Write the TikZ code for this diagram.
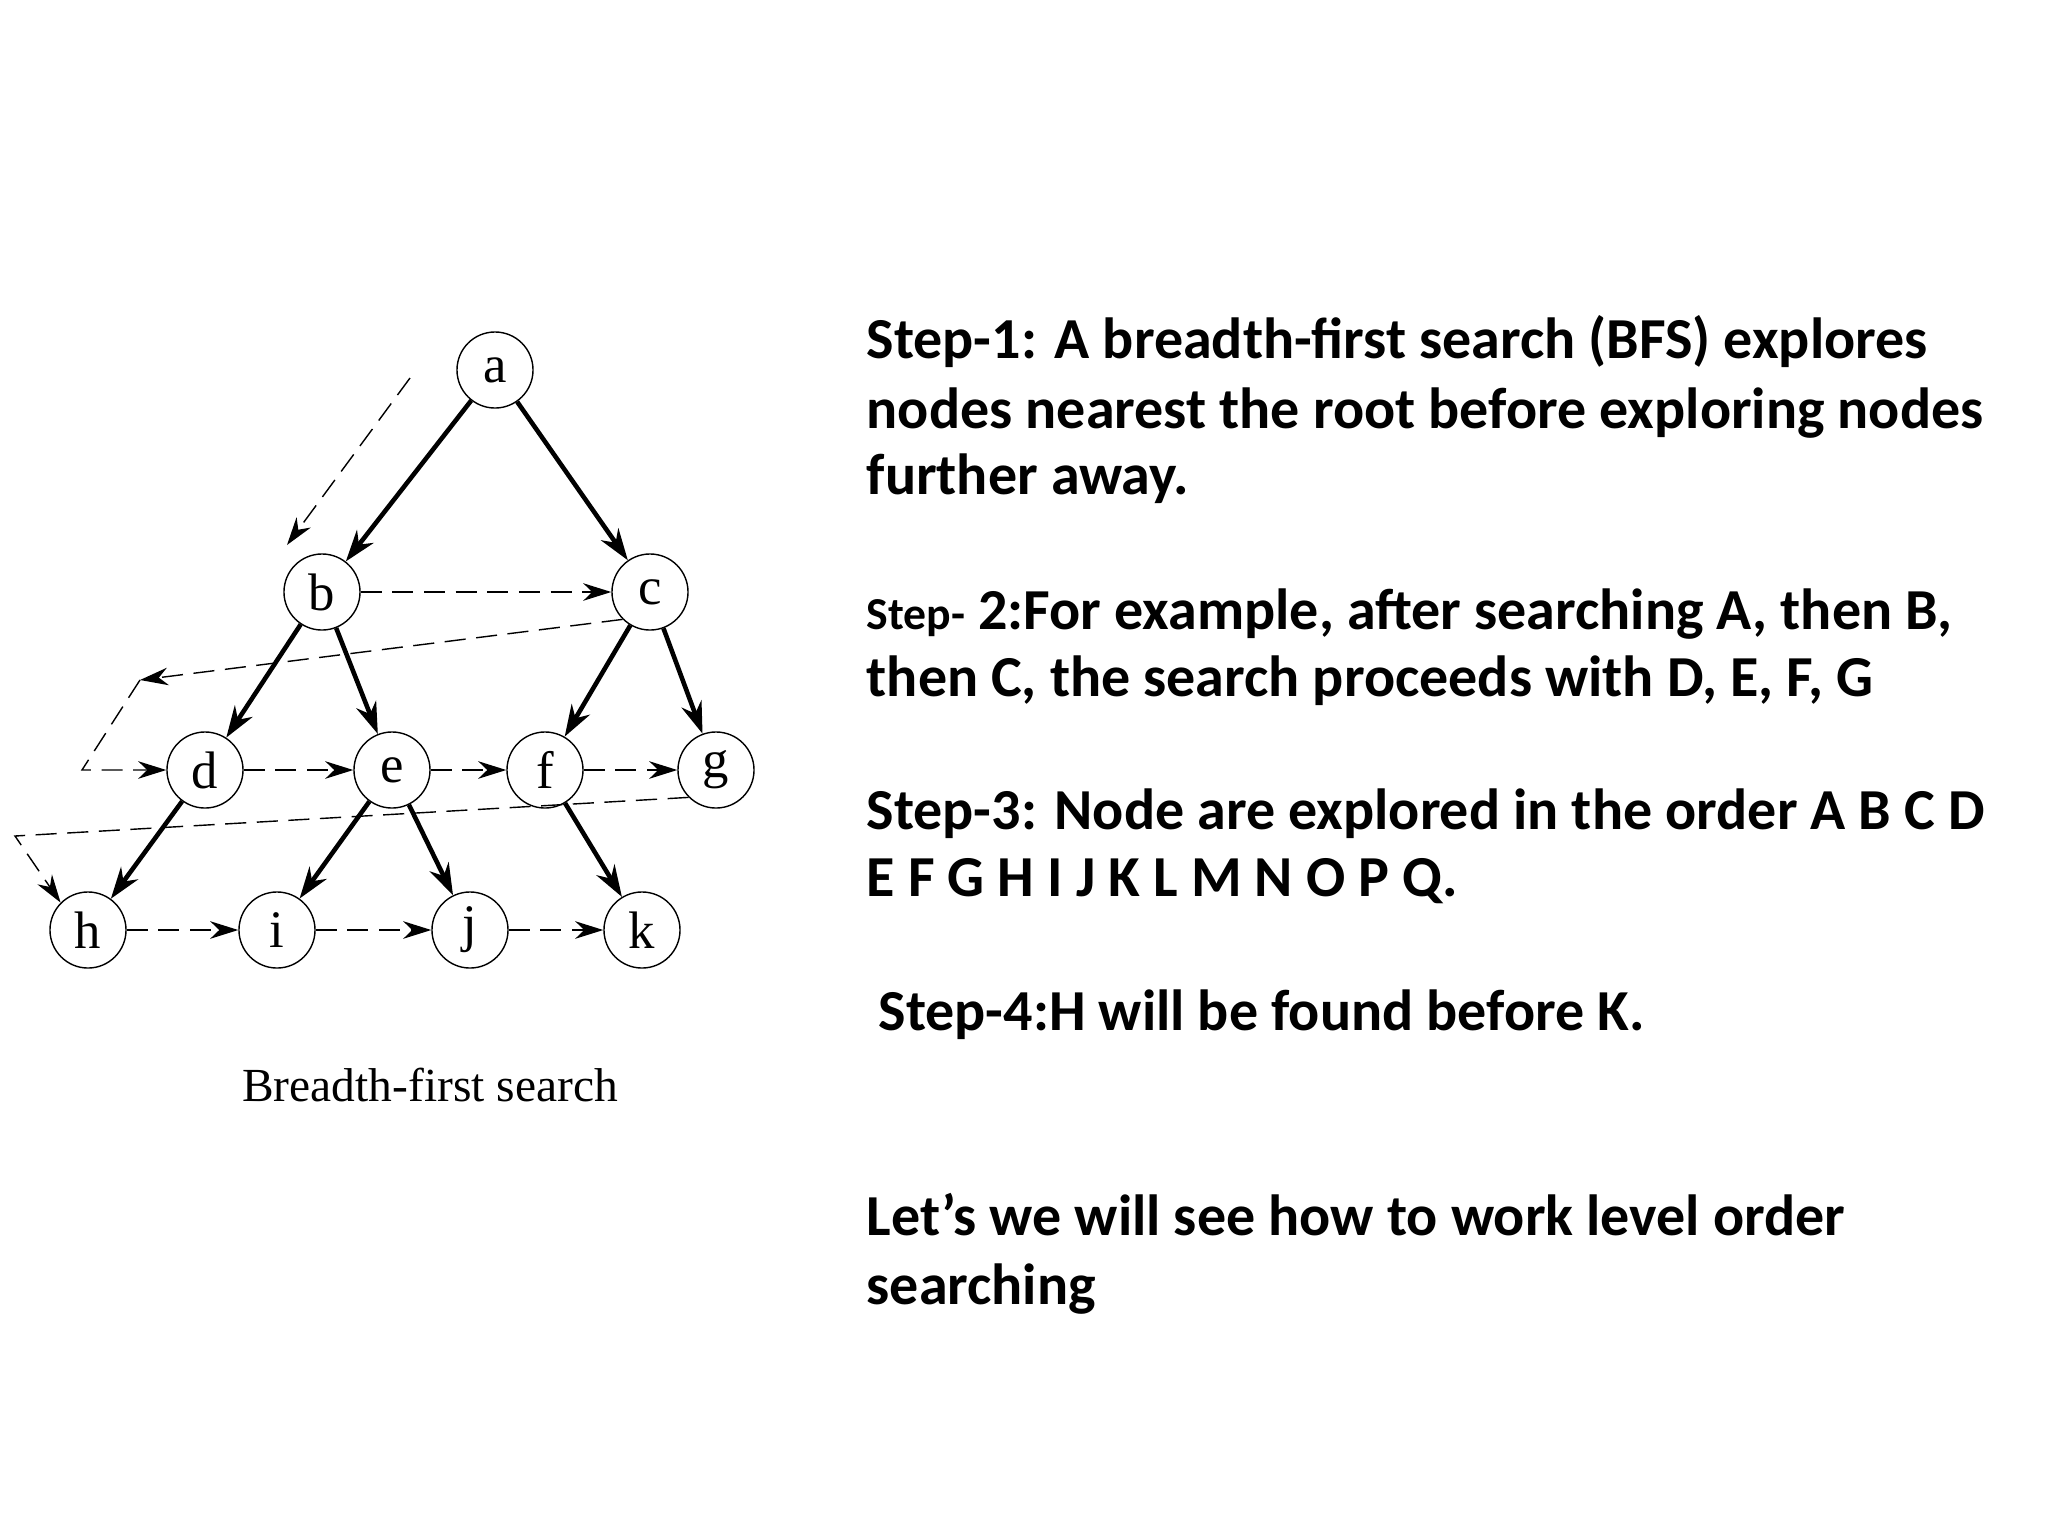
\documentclass[tikz,border=0pt]{standalone}
\usepackage{fontspec}
\setmainfont{Liberation Serif}
\newfontfamily\calib{Carlito}
\usetikzlibrary{arrows.meta}
\begin{document}
\begin{tikzpicture}[x=0.01cm,y=-0.01cm,
  vert/.style={circle,draw,thin,minimum size=0.76cm,inner sep=0pt,font=\fontsize{15}{15}\selectfont},
  tree/.style={-{Stealth[length=9pt,width=6pt]},line width=1.3pt},
  trav/.style={-{Stealth[length=8pt,width=5pt]},dashed,dash pattern=on 6pt off 3pt,thin},
  txt/.style={anchor=base west,inner sep=0pt,font=\calib\bfseries\fontsize{16.5}{19}\selectfont}]
\useasboundingbox (0,0) rectangle (2048,1536);
\fill[white] (0,0) rectangle (2048,1536);
\node[vert] (a) at (495,370) {a};
\node[vert] (b) at (322,592) {b};
\node[vert] (c) at (650,592) {c};
\node[vert] (d) at (205,770) {d};
\node[vert] (e) at (392,770) {e};
\node[vert] (f) at (545,770) {f};
\node[vert] (g) at (716,770) {g};
\node[vert] (h) at (88,930) {h};
\node[vert] (i) at (277,930) {i};
\node[vert] (j) at (470,930) {j};
\node[vert] (k) at (642,930) {k};
\draw[tree] (a) -- (b); \draw[tree] (a) -- (c);
\draw[tree] (b) -- (d); \draw[tree] (b) -- (e);
\draw[tree] (c) -- (f); \draw[tree] (c) -- (g);
\draw[tree] (d) -- (h); \draw[tree] (e) -- (i);
\draw[tree] (e) -- (j); \draw[tree] (f) -- (k);
\coordinate (s0) at (410,378); \coordinate (s1) at (287,545);
\draw[trav] (s0) -- (s1);
\draw[trav] (b) -- (c);
\coordinate (p1) at (140,680); \coordinate (p2) at (82,770);
\draw[trav] (c.south west) -- (p1);
\draw[trav] (p1) -- (p2) -- (d);
\draw[trav] (d) -- (e); \draw[trav] (e) -- (f); \draw[trav] (f) -- (g);
\coordinate (q1) at (15,836);
\draw[trav] (g.south west) -- (q1) -- (h.north west);
\draw[trav] (h) -- (i); \draw[trav] (i) -- (j); \draw[trav] (j) -- (k);
\node[font=\fontsize{13.5}{14}\selectfont] (cap) at (430,1085) {Breadth-first search};
\node[txt] (t1) at (866,358) {Step-1: A breadth-first search (BFS) explores};
\node[txt] (t2) at (866,428) {nodes nearest the root before exploring nodes};
\node[txt] (t3) at (866,494) {further away.};
\node[txt] (t4) at (866,629) {{\fontsize{13}{15}\selectfont Step-} 2:For example, after searching A, then B,};
\node[txt] (t5) at (866,696) {then C, the search proceeds with D, E, F, G};
\node[txt] (t6) at (866,829) {Step-3: Node are explored in the order A B C D};
\node[txt] (t7) at (866,896) {E F G H I J K L M N O P Q.};
\node[txt] (t8) at (878,1030) {Step-4:H will be found before K.};
\node[txt] (t9) at (866,1235) {Let’s we will see how to work level order};
\node[txt] (t10) at (866,1304) {searching};
\end{tikzpicture}
\end{document}
